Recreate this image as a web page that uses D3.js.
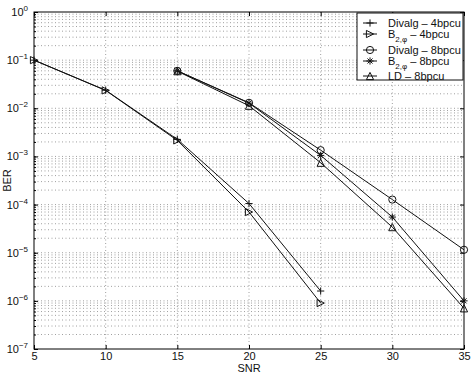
<!DOCTYPE html>
<html>
<head>
<meta charset="utf-8">
<script src="https://cdn.jsdelivr.net/npm/d3@7"></script>
<style>
  body { margin: 0; background: #fff; }
  text { font-family: "Liberation Sans", Arial, sans-serif; fill: #111; }
</style>
</head>
<body>
<div id="chart"></div>
<script>
// data
const snr4 = [5, 10, 15, 20, 25];
const divalg4 = [0.1, 0.0237, 0.00226, 1.05e-4, 1.6e-6];
const b2phi4 = [0.1, 0.0235, 0.00215, 7.0e-5, 9.0e-7];

const snr8 = [15, 20, 25, 30, 35];
const divalg8 = [0.060, 0.0130, 0.00135, 1.27e-4, 1.15e-5];
const b2phi8 = [0.060, 0.0128, 0.00105, 5.5e-5, 1.0e-6];
const ld8 = [0.059, 0.0113, 7.4e-4, 3.4e-5, 7.0e-7];

const xTicks = [5, 10, 15, 20, 25, 30, 35];
const yExp = [0, -1, -2, -3, -4, -5, -6, -7];

const series = [
  { name: "Divalg – 4bpcu", x: snr4, y: divalg4, marker: "plus" },
  { name: "B", sub: "2,φ", rest: " – 4bpcu", x: snr4, y: b2phi4, marker: "tright" },
  { name: "Divalg – 8bpcu", x: snr8, y: divalg8, marker: "circle" },
  { name: "B", sub: "2,φ", rest: " – 8bpcu", x: snr8, y: b2phi8, marker: "star" },
  { name: "LD – 8bpcu", x: snr8, y: ld8, marker: "tup" }
];

const W = 474, H = 374;
const margin = { top: 12, right: 10, bottom: 25, left: 34 };
const width = W - margin.left - margin.right;
const height = H - margin.top - margin.bottom;

const svg = d3.select("#chart").append("svg")
  .attr("width", W).attr("height", H);
const g = svg.append("g")
  .attr("transform", `translate(${margin.left},${margin.top})`);

const x = d3.scaleLinear().domain([5, 35]).range([0, width]);
const y = d3.scaleLog().domain([1e-7, 1]).range([height, 0]);

// grid lines (dotted)
const minorVals = [];
for (let e = -7; e < 0; e++) {
  for (let k = 1; k < 10; k++) minorVals.push(k * Math.pow(10, e));
}
g.append("g").selectAll("line").data(minorVals.filter(v => v > 1e-7)).enter()
  .append("line")
  .attr("x1", 0).attr("x2", width)
  .attr("y1", d => y(d)).attr("y2", d => y(d))
  .attr("stroke", "#888").attr("stroke-width", 0.8)
  .attr("stroke-dasharray", "1,2.5");
g.append("g").selectAll("line").data(xTicks.slice(1, -1)).enter()
  .append("line")
  .attr("x1", d => x(d)).attr("x2", d => x(d))
  .attr("y1", 0).attr("y2", height)
  .attr("stroke", "#888").attr("stroke-width", 0.8)
  .attr("stroke-dasharray", "1,2.5");

// axes with inward ticks
const xAxis = d3.axisBottom(x).tickValues(xTicks).tickSizeInner(-4).tickSizeOuter(0).tickPadding(3);
g.append("g").attr("transform", `translate(0,${height})`).call(xAxis)
  .call(a => a.select(".domain").remove())
  .selectAll("text").style("font-size", "11px");
g.append("g").call(d3.axisTop(x).tickValues(xTicks).tickSizeInner(-4).tickSizeOuter(0).tickFormat(""))
  .call(a => a.select(".domain").remove());

const yAxis = d3.axisLeft(y).tickValues(yExp.map(e => Math.pow(10, e)))
  .tickSizeInner(-4).tickSizeOuter(0).tickFormat("");
g.append("g").call(yAxis).call(a => a.select(".domain").remove());
g.append("g").call(d3.axisLeft(y).tickValues(minorVals).tickSizeInner(-2).tickSizeOuter(0).tickFormat(""))
  .call(a => a.select(".domain").remove());
g.append("g").attr("transform", `translate(${width},0)`)
  .call(d3.axisRight(y).tickValues(yExp.map(e => Math.pow(10, e))).tickSizeInner(-4).tickSizeOuter(0).tickFormat(""))
  .call(a => a.select(".domain").remove());

// y tick labels 10^n
const yl = g.append("g").selectAll("text").data(yExp).enter()
  .append("text")
  .attr("x", -6).attr("y", d => y(Math.pow(10, d)) + 4)
  .attr("text-anchor", "end")
  .style("font-size", "11px");
yl.append("tspan").text("10");
yl.append("tspan").attr("dy", -5).style("font-size", "8px").text(d => d === 0 ? "0" : "−" + (-d));

// frame
g.append("rect").attr("width", width).attr("height", height)
  .attr("fill", "none").attr("stroke", "#000").attr("stroke-width", 1);

// axis titles
svg.append("text").attr("x", margin.left + width / 2).attr("y", H - 2)
  .attr("text-anchor", "middle").style("font-size", "11px").text("SNR");
svg.append("text").attr("transform", `translate(11,${margin.top + height / 2}) rotate(-90)`)
  .attr("text-anchor", "middle").style("font-size", "11px").text("BER");

// markers
function drawMarker(sel, type) {
  const s = 3.6;
  if (type === "plus") {
    sel.append("path").attr("d", `M${-s},0H${s}M0,${-s}V${s}`)
      .attr("stroke", "#111").attr("fill", "none");
  } else if (type === "tright") {
    sel.append("path").attr("d", `M${-s},${-s}L${s},0L${-s},${s}Z`)
      .attr("stroke", "#111").attr("fill", "none");
  } else if (type === "circle") {
    sel.append("circle").attr("r", s).attr("stroke", "#111").attr("fill", "none");
  } else if (type === "star") {
    sel.append("path").attr("d", `M${-s},0H${s}M0,${-s}V${s}M${-s*0.7},${-s*0.7}L${s*0.7},${s*0.7}M${-s*0.7},${s*0.7}L${s*0.7},${-s*0.7}`)
      .attr("stroke", "#111").attr("fill", "none");
  } else if (type === "tup") {
    sel.append("path").attr("d", `M0,${-s}L${s},${s}L${-s},${s}Z`)
      .attr("stroke", "#111").attr("fill", "none");
  }
}

const line = d3.line().x(d => x(d[0])).y(d => y(d[1]));
series.forEach(s => {
  const pts = s.x.map((v, i) => [v, s.y[i]]);
  g.append("path").datum(pts).attr("d", line)
    .attr("fill", "none").attr("stroke", "#111").attr("stroke-width", 1);
  g.append("g").selectAll("g").data(pts).enter().append("g")
    .attr("transform", d => `translate(${x(d[0])},${y(d[1])})`)
    .each(function () { drawMarker(d3.select(this), s.marker); });
});

// legend
const lg = g.append("g").attr("transform", `translate(${width - 107},1)`);
lg.append("rect").attr("width", 106).attr("height", 67)
  .attr("fill", "#fff").attr("stroke", "#111");
const rowY = [10, 21, 37, 48, 63];
series.forEach((s, i) => {
  const r = lg.append("g").attr("transform", `translate(0,${rowY[i]})`);
  r.append("line").attr("x1", 6).attr("x2", 20).attr("stroke", "#111");
  r.append("g").attr("transform", "translate(13,0)").call(sel => drawMarker(sel, s.marker));
  const t = r.append("text").attr("x", 31).attr("y", 4).style("font-size", "11px");
  if (s.sub) {
    t.append("tspan").text(s.name);
    t.append("tspan").attr("dy", 4).style("font-size", "8px").text(s.sub);
    t.append("tspan").attr("dy", -4).text(s.rest);
  } else {
    t.text(s.name);
  }
});
</script>
</body>
</html>
